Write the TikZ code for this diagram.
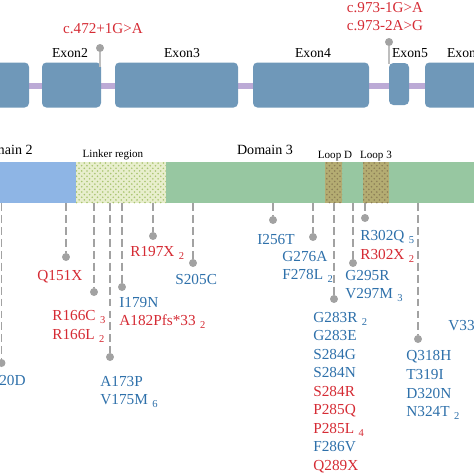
\documentclass[tikz,border=0pt]{standalone}
\usepackage{fontspec}
\setmainfont{Liberation Serif}
\usetikzlibrary{patterns}
\definecolor{exonblue}{RGB}{111,152,185}
\definecolor{intron}{RGB}{188,170,214}
\definecolor{dombl}{RGB}{142,181,229}
\definecolor{domgr}{RGB}{151,199,161}
\definecolor{mutred}{RGB}{213,43,52}
\definecolor{mutblue}{RGB}{46,112,170}
\definecolor{pingray}{RGB}{162,162,162}
\definecolor{linkbg}{RGB}{232,238,205}
\definecolor{linkdot}{RGB}{168,196,112}
\definecolor{loopfill}{RGB}{180,172,114}
\definecolor{loopdot}{RGB}{140,126,86}
\newcommand{\cnt}[1]{\hspace{2.5pt}\raisebox{-1.8pt}{\fontsize{6}{6}\selectfont #1}}

\begin{document}
\begin{tikzpicture}[x=0.02cm,y=-0.02cm,
  exon/.style={fill=exonblue,rounded corners=2.5pt},
  exlab/.style={inner sep=0pt,font=\fontsize{7.8}{9}\selectfont},
  splab/.style={inner sep=0pt,text=mutred,font=\fontsize{8.6}{10}\selectfont},
  domlab/.style={inner sep=0pt,font=\fontsize{8}{9}\selectfont},
  smlab/.style={inner sep=0pt,font=\fontsize{6.3}{7}\selectfont},
  mutR/.style={anchor=base west,inner sep=0pt,text=mutred,font=\fontsize{8.7}{10}\selectfont},
  mutB/.style={mutR,text=mutblue},
  pinhead/.style={circle,fill=pingray,inner sep=0pt,minimum size=0.16cm},
  stem/.style={pingray,line width=0.8pt,dash pattern=on 4.5pt off 2.3pt},
  tick/.style={pingray!70,line width=0.6pt}]
\useasboundingbox (0,0) rectangle (474,474);
% gene
\begin{scope}[]
\draw[intron,line width=0.12cm] (-10,86) -- (484,86);
\fill[exon] (-20,62.5) rectangle (29,107.5);
\fill[exon] (42,62.5) rectangle (101,107.5);
\fill[exon] (115,62.5) rectangle (238,107.5);
\fill[exon] (253,62.5) rectangle (369,107.5);
\fill[exon] (389,63) rectangle (409,105);
\fill[exon] (425,62.5) rectangle (500,107.5);
\end{scope}
\node[exlab] (ex2) at (70,53) {Exon2};
\node[exlab] (ex3) at (182,53) {Exon3};
\node[exlab] (ex4) at (313,53) {Exon4};
\node[exlab] (ex5) at (410,53) {Exon5};
\node[exlab] (ex6) at (465,53) {Exon6};
\coordinate (t472) at (100,67);
\node[pinhead] (p472) at (100,48) {};
\draw[tick] (p472) -- (t472);
\node[splab] (c472) at (103,29) {c.472+1G>A};
\coordinate (t973) at (389,64);
\node[pinhead] (p973) at (389,42) {};
\draw[tick] (p973) -- (t973);
\node[splab] (c973a) at (385,8) {c.973-1G>A};
\node[splab] (c973b) at (385,26) {c.973-2A>G};
% protein
\begin{scope}[]
\fill[dombl] (-10,162) rectangle (76,203);
\fill[linkbg] (76,162) rectangle (166,203);
\fill[pattern=crosshatch dots,pattern color=linkdot] (76,162) rectangle (166,203);
\fill[domgr] (166,162) rectangle (484,203);
\fill[loopfill] (325,162) rectangle (342,203);
\fill[pattern=crosshatch dots,pattern color=loopdot] (325,162) rectangle (342,203);
\fill[loopfill] (363,162) rectangle (389,203);
\fill[pattern=crosshatch dots,pattern color=loopdot] (363,162) rectangle (389,203);
\end{scope}
\node[domlab,anchor=east] (dom2) at (33,150) {Domain 2};
\node[smlab] (linker) at (113,155) {Linker region};
\node[domlab] (dom3) at (265,150) {Domain 3};
\node[smlab] (loopd) at (335,156) {Loop D};
\node[smlab] (loop3) at (376,156) {Loop 3};
% pins
\coordinate (t20) at (1.5,203);
\coordinate (t151) at (66,203);
\coordinate (t166) at (94,203);
\coordinate (t173) at (110,203);
\coordinate (t179) at (122,203);
\coordinate (t197) at (153,203);
\coordinate (t205) at (193,203);
\coordinate (t256) at (273,203);
\coordinate (t276) at (313,203);
\coordinate (t283) at (334,203);
\coordinate (t295) at (353,203);
\coordinate (t302) at (365,203);
\coordinate (t318) at (418,203);
\node[pinhead] (p20) at (1.5,363) {};
\node[pinhead] (p151) at (66,257) {};
\node[pinhead] (p166) at (94,292) {};
\node[pinhead] (p173) at (110,357) {};
\node[pinhead] (p179) at (122,287) {};
\node[pinhead] (p197) at (153,236) {};
\node[pinhead] (p205) at (193,263) {};
\node[pinhead] (p256) at (273,220) {};
\node[pinhead] (p276) at (313,237) {};
\node[pinhead] (p283) at (334,299) {};
\node[pinhead] (p295) at (353,263) {};
\node[pinhead] (p302) at (365,218) {};
\node[pinhead] (p318) at (418,339) {};
\draw[stem] (t20) -- (p20);
\draw[stem] (t151) -- (p151);
\draw[stem] (t166) -- (p166);
\draw[stem] (t173) -- (p173);
\draw[stem] (t179) -- (p179);
\draw[stem] (t197) -- (p197);
\draw[stem] (t205) -- (p205);
\draw[stem] (t256) -- (p256);
\draw[stem] (t276) -- (p276);
\draw[stem] (t283) -- (p283);
\draw[stem] (t295) -- (p295);
\draw[stem] (t302) -- (p302);
\draw[stem] (t318) -- (p318);
% mutations
\node[mutB,anchor=base east] (m20d) at (26,385) {20D};
\node[mutR] (q151x) at (37,280) {Q151X};
\node[mutR] (r166c) at (52,320) {R166C\cnt{3}};
\node[mutR] (r166l) at (52,339) {R166L\cnt{2}};
\node[mutB] (a173p) at (100,386) {A173P};
\node[mutB] (v175m) at (100,404) {V175M\cnt{6}};
\node[mutB] (i179n) at (119,307) {I179N};
\node[mutR] (a182p) at (119,325) {A182Pfs*33\cnt{2}};
\node[mutR] (r197x) at (130,256) {R197X\cnt{2}};
\node[mutB] (s205c) at (175,284) {S205C};
\node[mutB] (i256t) at (257,244) {I256T};
\node[mutB] (g276a) at (282,261) {G276A};
\node[mutB] (f278l) at (282,279) {F278L\cnt{2}};
\node[mutB] (g283r) at (313,322) {G283R\cnt{2}};
\node[mutB] (g283e) at (313,340.5) {G283E};
\node[mutB] (s284g) at (313,359) {S284G};
\node[mutB] (s284n) at (313,377.5) {S284N};
\node[mutR] (s284r) at (313,396) {S284R};
\node[mutR] (p285q) at (313,414.5) {P285Q};
\node[mutR] (p285l) at (313,433) {P285L\cnt{4}};
\node[mutB] (f286v) at (313,451.5) {F286V};
\node[mutR] (q289x) at (313,470) {Q289X};
\node[mutB] (g295r) at (345,280) {G295R};
\node[mutB] (v297m) at (345,298) {V297M\cnt{3}};
\node[mutB] (r302q) at (360,240) {R302Q\cnt{5}};
\node[mutR] (r302x) at (360,259) {R302X\cnt{2}};
\node[mutB] (q318h) at (406,360) {Q318H};
\node[mutB] (t319i) at (406,379) {T319I};
\node[mutB] (d320n) at (406,398) {D320N};
\node[mutB] (n324t) at (406,416) {N324T\cnt{2}};
\node[mutB] (v33) at (448,330) {V33};
\end{tikzpicture}
\end{document}
